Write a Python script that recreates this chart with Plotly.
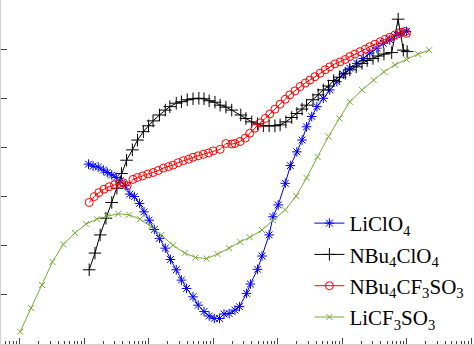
import numpy as np
import plotly.graph_objects as go

# log10 of frequency (Hz) and response for each electrolyte
lg_f_liclo4 = [-0.93, -0.86, -0.78, -0.70, -0.64, -0.57, -0.50, -0.44, -0.36, -0.29,
               -0.22, -0.14, -0.07, 0.01, 0.09, 0.17, 0.26, 0.34, 0.43, 0.51,
               0.59, 0.69, 0.77, 0.86, 0.94, 1.02, 1.10, 1.17, 1.25, 1.34,
               1.41, 1.52, 1.58, 1.69, 1.76, 1.87, 1.93, 2.01, 2.12, 2.20,
               2.30, 2.38, 2.45, 2.53, 2.61, 2.71, 2.81, 2.92, 3.02, 3.12,
               3.23, 3.33, 3.43, 3.54, 3.64, 3.74, 3.85, 3.93, 4.00]
y_liclo4 = [3.66, 3.62, 3.60, 3.54, 3.49, 3.44, 3.39, 3.32, 3.22, 3.05,
            3.00, 2.86, 2.69, 2.52, 2.33, 2.15, 1.95, 1.72, 1.51, 1.30,
            1.13, 0.96, 0.79, 0.66, 0.57, 0.52, 0.52, 0.61, 0.62, 0.69,
            0.76, 1.03, 1.22, 1.52, 1.79, 2.22, 2.59, 2.83, 3.27, 3.63,
            3.91, 4.15, 4.42, 4.63, 4.83, 5.00, 5.17, 5.34, 5.49, 5.61,
            5.71, 5.81, 5.92, 6.02, 6.12, 6.19, 6.29, 6.34, 6.36]

lg_f_nbu4clo4 = [-0.92, -0.83, -0.75, -0.66, -0.57, -0.49, -0.42, -0.34, -0.25, -0.17,
                 -0.08, 0.00, 0.07, 0.17, 0.26, 0.33, 0.43, 0.51, 0.60, 0.69,
                 0.78, 0.86, 0.94, 1.03, 1.11, 1.20, 1.29, 1.43, 1.51, 1.60,
                 1.69, 1.78, 1.87, 1.96, 2.04, 2.13, 2.22, 2.30, 2.38, 2.45,
                 2.55, 2.63, 2.71, 2.79, 2.87, 2.96, 3.05, 3.12, 3.22, 3.31,
                 3.39, 3.48, 3.56, 3.65, 3.77, 3.87, 3.95, 4.01]
y_nbu4clo4 = [1.51, 1.85, 2.22, 2.56, 2.88, 3.17, 3.47, 3.74, 3.95, 4.15,
              4.32, 4.44, 4.54, 4.66, 4.76, 4.83, 4.90, 4.93, 4.97, 4.99,
              5.00, 4.99, 4.95, 4.92, 4.86, 4.82, 4.76, 4.66, 4.59, 4.52,
              4.48, 4.44, 4.44, 4.44, 4.46, 4.52, 4.61, 4.69, 4.78, 4.86,
              4.97, 5.07, 5.17, 5.25, 5.36, 5.43, 5.51, 5.58, 5.64, 5.71,
              5.77, 5.81, 5.86, 5.90, 5.93, 6.61, 5.98, 5.95]

lg_f_nbu4cf3so3 = [-0.92, -0.84, -0.77, -0.69, -0.61, -0.53, -0.45, -0.39, -0.33, -0.24,
                   -0.17, -0.09, -0.01, 0.07, 0.15, 0.23, 0.31, 0.38, 0.46, 0.54,
                   0.62, 0.69, 0.77, 0.85, 0.93, 1.00, 1.11, 1.20, 1.29, 1.34,
                   1.42, 1.50, 1.57, 1.65, 1.73, 1.81, 1.88, 1.96, 2.04, 2.12,
                   2.19, 2.27, 2.35, 2.43, 2.50, 2.58, 2.66, 2.74, 2.81, 2.89,
                   2.97, 3.05, 3.12, 3.20, 3.28, 3.36, 3.43, 3.51, 3.59, 3.67,
                   3.74, 3.82, 3.90, 3.98, 4.00]
y_nbu4cf3so3 = [2.88, 3.00, 3.08, 3.15, 3.20, 3.24, 3.27, 3.28, 3.22, 3.35,
                3.39, 3.42, 3.46, 3.49, 3.53, 3.58, 3.61, 3.64, 3.69, 3.73,
                3.76, 3.80, 3.83, 3.86, 3.89, 3.93, 3.96, 4.08, 4.07, 4.08,
                4.12, 4.19, 4.29, 4.39, 4.50, 4.59, 4.68, 4.78, 4.88, 4.98,
                5.07, 5.15, 5.24, 5.31, 5.37, 5.44, 5.51, 5.58, 5.64, 5.70,
                5.74, 5.79, 5.85, 5.90, 5.95, 6.00, 6.05, 6.10, 6.15, 6.20,
                6.24, 6.29, 6.34, 6.36, 6.32]

lg_f_licf3so3 = [-1.99, -1.82, -1.65, -1.49, -1.32, -1.14, -0.97, -0.80, -0.64, -0.47,
                 -0.30, -0.13, 0.04, 0.20, 0.38, 0.56, 0.73, 0.90, 1.07, 1.25,
                 1.42, 1.57, 1.76, 1.93, 2.12, 2.29, 2.45, 2.62, 2.79, 2.96,
                 3.12, 3.31, 3.49, 3.65, 3.82, 4.00, 4.18, 4.35]
y_licf3so3 = [0.25, 0.73, 1.20, 1.67, 2.03, 2.26, 2.44, 2.54, 2.60, 2.65,
              2.63, 2.54, 2.39, 2.22, 2.01, 1.85, 1.76, 1.74, 1.83, 1.95,
              2.08, 2.17, 2.32, 2.52, 2.73, 3.01, 3.38, 3.81, 4.22, 4.59,
              4.93, 5.17, 5.37, 5.54, 5.68, 5.79, 5.90, 5.98]

series = [
    ("LiClO<sub>4</sub>", lg_f_liclo4, y_liclo4, "#0000FF", "asterisk-open", 8),
    ("NBu<sub>4</sub>ClO<sub>4</sub>", lg_f_nbu4clo4, y_nbu4clo4, "#000000", "cross-thin-open", 9),
    ("NBu<sub>4</sub>CF<sub>3</sub>SO<sub>3</sub>", lg_f_nbu4cf3so3, y_nbu4cf3so3, "#FF0000", "circle-open", 8),
    ("LiCF<sub>3</sub>SO<sub>3</sub>", lg_f_licf3so3, y_licf3so3, "#77AC30", "x-thin-open", 6),
]

fig = go.Figure()
for i, (name, lg, y, color, symbol, size) in enumerate(series):
    fig.add_trace(go.Scatter(
        x=10 ** np.array(lg), y=y, name=name, mode="lines+markers",
        legendgroup=f"g{i}",
        line=dict(color=color, width=1),
        marker=dict(symbol=symbol, size=size, color=color, line=dict(color=color, width=1)),
    ))

fig.update_layout(
    width=474, height=345,
    margin=dict(l=1, r=0, t=0, b=1),
    paper_bgcolor="white", plot_bgcolor="white",
    font=dict(family="Liberation Serif", color="black"),
    showlegend=True,
    legend=dict(
        x=0.652, y=0.41, xanchor="left", yanchor="top",
        bgcolor="rgba(0,0,0,0)", borderwidth=0,
        font=dict(family="Liberation Serif", size=21, color="black"),
        tracegroupgap=1,
    ),
    xaxis=dict(
        type="log", range=[-2.287, 5.046], showgrid=False, zeroline=False,
        showticklabels=False, ticks="inside", ticklen=6, tickcolor="#444",
        dtick=1, showline=True, linecolor="#d0d0d0", linewidth=1,
        minor=dict(ticks="inside", ticklen=3, tickcolor="#444", dtick="D1", showgrid=False),
    ),
    yaxis=dict(
        range=[0, 7], showgrid=False, zeroline=False, showticklabels=False,
        ticks="inside", ticklen=6, tickcolor="#444", dtick=1,
        showline=True, linecolor="#d0d0d0", linewidth=1,
    ),
)

fig.write_html("out.html")
